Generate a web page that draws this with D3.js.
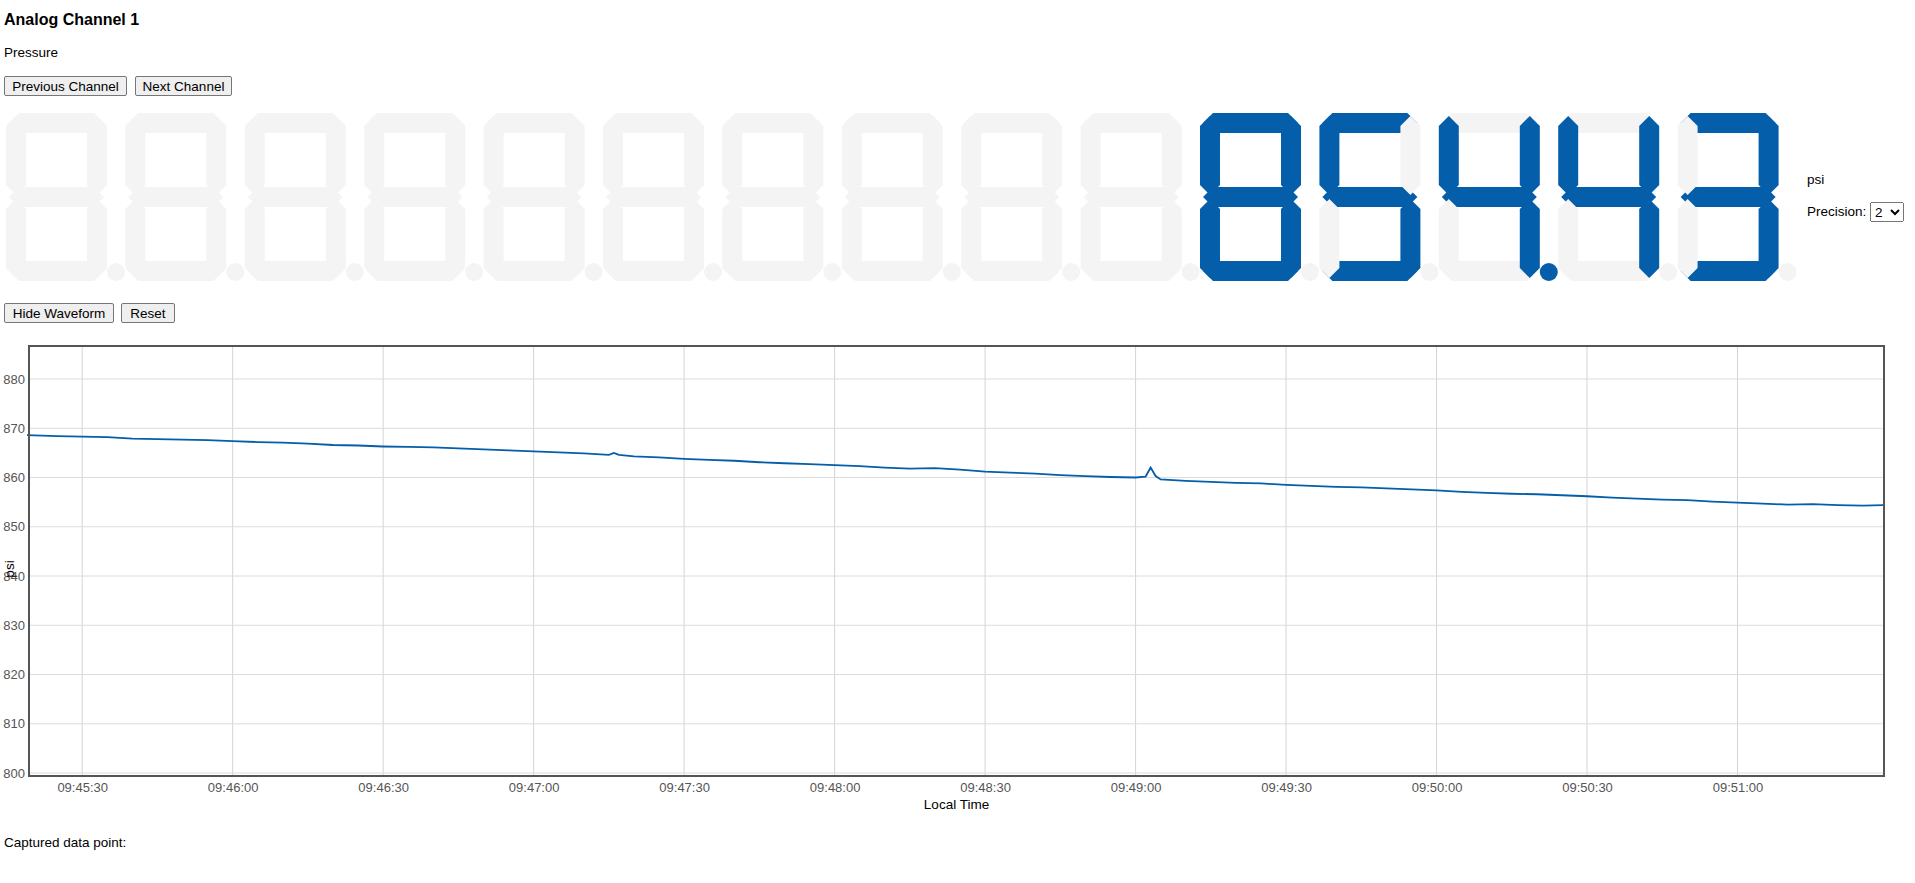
<!DOCTYPE html>
<html>
<head>
<meta charset="utf-8">
<script src="https://cdn.jsdelivr.net/npm/d3@7"></script>
<style>
body { margin: 0; font-family: "Liberation Sans", Arial, sans-serif; background: #fff; }
.abs { position: absolute; }
button { position: absolute; font-family: "Liberation Sans", Arial, sans-serif; font-size: 13.5px; padding: 0 6px; height: 20px; background: #efefef; border: 1px solid #767676; border-radius: 2px; color: #000; }
select { position: absolute; font-size: 13.5px; font-family: "Liberation Sans", Arial, sans-serif; }
svg { position: absolute; left: 0; top: 0; }
</style>
</head>
<body>
<svg id="chart" width="1915" height="883"></svg>
<div class="abs" style="left:4px;top:11px;font-weight:bold;font-size:16px;">Analog Channel 1</div>
<div class="abs" style="left:4px;top:45px;font-size:13.5px;">Pressure</div>
<button style="left:4px;top:76px;width:123px;">Previous Channel</button>
<button style="left:135px;top:76px;width:97px;">Next Channel</button>
<div class="abs" style="left:1807px;top:172px;font-size:13.5px;">psi</div>
<div class="abs" style="left:1807px;top:204px;font-size:13.5px;">Precision:</div>
<select style="left:1870px;top:202px;width:34px;height:20px;padding:0;"><option>2</option></select>
<button style="left:4px;top:303px;width:110px;">Hide Waveform</button>
<button style="left:121px;top:303px;width:54px;">Reset</button>
<div class="abs" style="left:4px;top:835px;font-size:13.5px;">Captured data point:</div>
<script>
// display: 15 positions, value right aligned
const displayValue = "854.43";
const digitCount = 15;

// waveform, seconds after 09:45:00
const times = [19, 25, 30, 35, 40, 45, 50, 55, 60, 65, 70, 75, 80, 85, 90, 95, 100, 105, 110, 115, 120,
  125, 130, 135, 136, 137, 140, 145, 150, 155, 160, 165, 170, 175, 180, 185, 190, 195, 200, 205, 210,
  215, 220, 225, 230, 235, 240, 242, 243, 244, 245, 250, 255, 260, 265, 270, 275, 280, 285, 290, 295,
  300, 305, 310, 315, 320, 325, 330, 335, 340, 345, 350, 355, 360, 365, 370, 375, 380, 385, 389];
const values = [868.6, 868.4, 868.3, 868.2, 867.9, 867.8, 867.7, 867.6, 867.4, 867.2, 867.1, 866.9, 866.6,
  866.5, 866.3, 866.2, 866.1, 865.9, 865.7, 865.5, 865.3, 865.1, 864.9, 864.6, 865.0, 864.6, 864.3,
  864.1, 863.8, 863.6, 863.4, 863.1, 862.9, 862.7, 862.5, 862.3, 862.0, 861.8, 861.9, 861.6, 861.2,
  861.0, 860.8, 860.5, 860.3, 860.1, 860.0, 860.2, 862.0, 860.3, 859.6, 859.3, 859.1, 858.9, 858.8,
  858.5, 858.3, 858.1, 858.0, 857.8, 857.6, 857.4, 857.1, 856.9, 856.7, 856.6, 856.4, 856.2, 855.9,
  855.7, 855.5, 855.4, 855.1, 854.9, 854.7, 854.5, 854.6, 854.4, 854.3, 854.4];
const yTicks = [800, 810, 820, 830, 840, 850, 860, 870, 880];
const xTickLabels = ["09:45:30", "09:46:00", "09:46:30", "09:47:00", "09:47:30", "09:48:00",
  "09:48:30", "09:49:00", "09:49:30", "09:50:00", "09:50:30", "09:51:00"];

const svg = d3.select("#chart");
const blue = "#045ea9";

// ---- seven segment display ----
const W = 101, H = 168, t = 20, g = 2, pitch = 119.4;
const digitSegs = {"0":"abcdef","1":"bc","2":"abdeg","3":"abcdg","4":"bcfg","5":"acdfg",
  "6":"acdefg","7":"abc","8":"abcdefg","9":"abcdfg"};

function hSeg(cy) {
  const x0 = g + 1, x1 = W - g - 1;
  return [[x0, cy], [x0 + t / 2, cy - t / 2], [x1 - t / 2, cy - t / 2], [x1, cy], [x1 - t / 2, cy + t / 2], [x0 + t / 2, cy + t / 2]];
}
function vSeg(cx, y0, y1) {
  return [[cx, y0], [cx + t / 2, y0 + t / 2], [cx + t / 2, y1 - t / 2], [cx, y1], [cx - t / 2, y1 - t / 2], [cx - t / 2, y0 + t / 2]];
}
const segShapes = {
  a: hSeg(t / 2), g: hSeg(H / 2), d: hSeg(H - t / 2),
  f: vSeg(t / 2, g + 1, H / 2 - g), b: vSeg(W - t / 2, g + 1, H / 2 - g),
  e: vSeg(t / 2, H / 2 + g, H - g - 1), c: vSeg(W - t / 2, H / 2 + g, H - g - 1)
};

// split value into characters with dots
const chars = [];
for (const ch of displayValue) {
  if (ch === ".") chars[chars.length - 1].dot = true;
  else chars.push({ d: ch, dot: false });
}
const slots = d3.range(digitCount).map(i => {
  const k = i - (digitCount - chars.length);
  return k >= 0 ? chars[k] : { d: null, dot: false };
});

const disp = svg.append("g").attr("transform", "translate(6,113)");
const digitG = disp.selectAll("g.digit").data(slots).join("g")
  .attr("transform", (d, i) => `translate(${i * pitch},0)`);
digitG.each(function (d) {
  const on = d.d ? digitSegs[d.d] : "";
  const gg = d3.select(this);
  Object.entries(segShapes).forEach(([k, pts]) => {
    gg.append("polygon").attr("points", pts.map(p => p.join(",")).join(" "))
      .attr("fill", on.includes(k) ? blue : "#f4f4f4");
  });
  gg.append("circle").attr("cx", W + 9).attr("cy", H - 9).attr("r", 9)
    .attr("fill", d.dot ? blue : "#f4f4f4");
});

// ---- waveform chart ----
const box = { left: 29, right: 1884, top: 346, bottom: 776 };
const x = d3.scaleLinear().domain([19.4, 389.2]).range([box.left, box.right]);
const y = d3.scaleLinear().domain([799.4, 886.7]).range([box.bottom, box.top]);
const xTickSecs = xTickLabels.map(s => { const p = s.split(":"); return (+p[1] - 45) * 60 + +p[2]; });

svg.append("g").selectAll("line").data(xTickSecs).join("line")
  .attr("x1", d => x(d)).attr("x2", d => x(d)).attr("y1", box.top).attr("y2", box.bottom)
  .attr("stroke", "#d4d4d4").attr("stroke-width", 1);
svg.append("g").selectAll("line").data(yTicks).join("line")
  .attr("x1", box.left).attr("x2", box.right).attr("y1", d => y(d)).attr("y2", d => y(d))
  .attr("stroke", "#dcdcdc").attr("stroke-width", 1);

svg.append("path").datum(times.map((tt, i) => [tt, values[i]]))
  .attr("d", d3.line().x(d => x(d[0])).y(d => y(d[1])))
  .attr("fill", "none").attr("stroke", blue).attr("stroke-width", 1.8);

svg.append("rect").attr("x", box.left).attr("y", box.top)
  .attr("width", box.right - box.left).attr("height", box.bottom - box.top)
  .attr("fill", "none").attr("stroke", "#555").attr("stroke-width", 2);

const yAxis = svg.append("g").attr("transform", `translate(${box.left},0)`)
  .call(d3.axisLeft(y).tickValues(yTicks).tickSize(0).tickPadding(4));
yAxis.select(".domain").remove();
yAxis.selectAll("text").attr("font-size", 13).attr("fill", "#555")
  .attr("font-family", "Liberation Sans, Arial, sans-serif");

const xAxis = svg.append("g").attr("transform", `translate(0,${box.bottom})`)
  .call(d3.axisBottom(x).tickValues(xTickSecs).tickFormat((d, i) => xTickLabels[i]).tickSize(0).tickPadding(7));
xAxis.select(".domain").remove();
xAxis.selectAll("text").attr("font-size", 13).attr("fill", "#555")
  .attr("font-family", "Liberation Sans, Arial, sans-serif");

svg.append("text").attr("x", (box.left + box.right) / 2).attr("y", 809).attr("text-anchor", "middle")
  .attr("font-size", 13.5).attr("font-family", "Liberation Sans, Arial, sans-serif").text("Local Time");
svg.append("text").attr("transform", "translate(14,569) rotate(-90)").attr("text-anchor", "middle")
  .attr("font-size", 13.5).attr("font-family", "Liberation Sans, Arial, sans-serif").text("psi");
</script>
</body>
</html>
